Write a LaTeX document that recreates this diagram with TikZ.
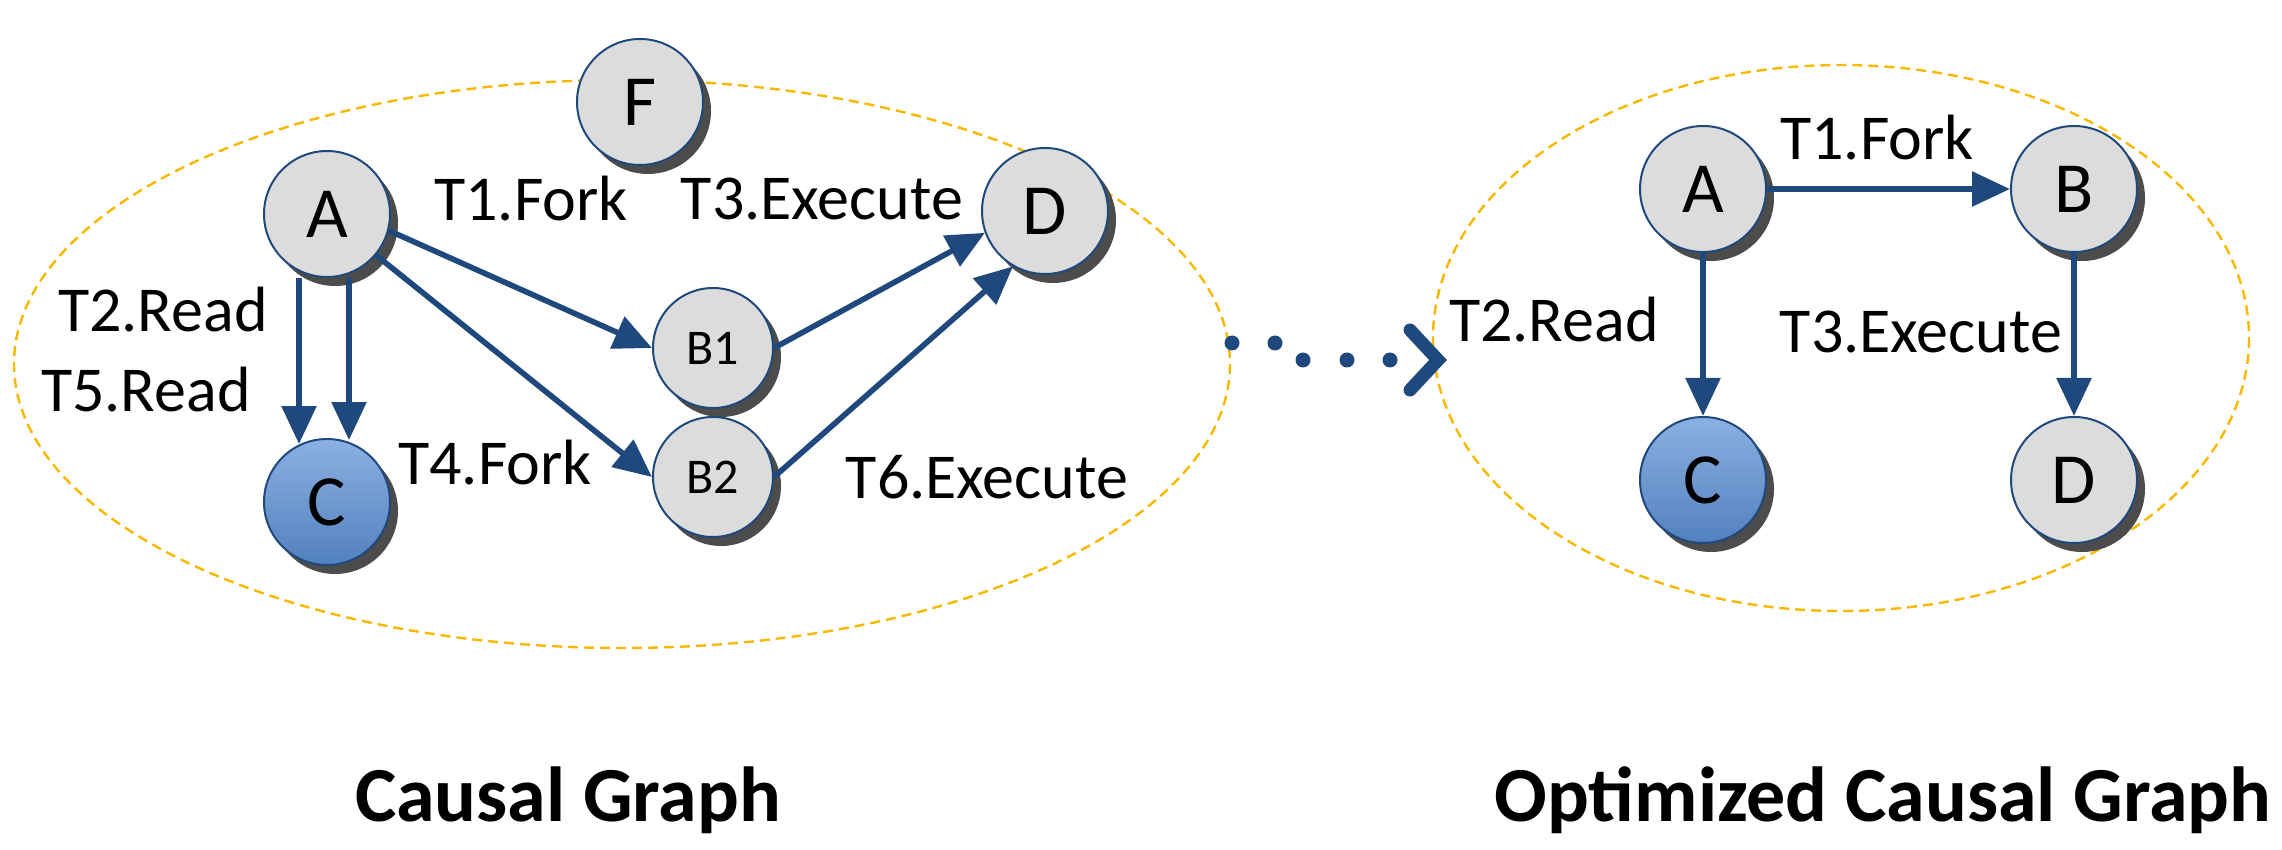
\documentclass[tikz,border=0pt]{standalone}
\usepackage{fontspec}
\setmainfont{Carlito}
\usetikzlibrary{shapes.geometric,arrows.meta,shadows}
\definecolor{edge}{HTML}{1F497D}
\definecolor{gfill}{HTML}{DCDCDC}
\definecolor{bfill}{HTML}{5B8FD4}
\definecolor{oline}{HTML}{F8B800}
\tikzset{
 nd/.style={circle,draw=edge,line width=1pt,fill=gfill,minimum size=63pt,inner sep=0pt,font=\fontsize{36}{36}\selectfont,
   drop shadow={shadow xshift=4pt,shadow yshift=-4.5pt,fill=black!70,opacity=1}},
 sm/.style={nd,minimum size=60pt,font=\fontsize{25}{25}\selectfont},
 blue/.style={top color=bfill!70!white,bottom color=bfill!90!black},
 arr/.style={draw=edge,line width=2.8pt,-{Triangle[length=19pt,width=17pt]}},
 lbl/.style={font=\fontsize{32}{32}\selectfont,inner sep=0pt},
 ttl/.style={font=\bfseries\fontsize{39}{39}\selectfont,inner sep=0pt},
 oval/.style={draw=oline,line width=1.2pt,dash pattern=on 5pt off 3pt}
}
\begin{document}
\begin{tikzpicture}[x=0.5pt,y=-0.5pt]
\useasboundingbox (0,0) rectangle (2282,850);
\draw[oval] (622,364) ellipse [x radius=608,y radius=284];
\draw[oval] (1841,338) ellipse [x radius=408,y radius=273];
% left graph
\node[nd] (F) at (640,102) {F};
\node[nd] (A) at (327,214) {A};
\node[nd,blue] (C) at (327,502) {C};
\node[sm] (B1) at (713,348) {B1};
\node[sm] (B2) at (713,477) {B2};
\node[nd] (D) at (1045,211) {D};
\draw[arr] ([xshift=-14pt]A.south) -- ([xshift=-14pt,yshift=-3pt]C.north);
\draw[arr] ([xshift=11pt]A.south) -- ([xshift=11pt,yshift=-1pt]C.north);
\draw[arr] (A.-15) -- (B1.west);
\draw[arr] (A.-40) -- (B2.west);
\draw[arr] (B1.east) -- (D.-160);
\draw[arr] (B2.east) -- (D.-120);
\node[lbl] (l1) at (531,199) {T1.Fork};
\node[lbl] (l3) at (822,199) {T3.Execute};
\node[lbl] (l2) at (163,310) {T2.Read};
\node[lbl] (l5) at (146,390) {T5.Read};
\node[lbl] (l4) at (495,463) {T4.Fork};
\node[lbl] (l6) at (987,477) {T6.Execute};
% right graph
\node[nd] (RA) at (1703,189) {A};
\node[nd] (RB) at (2074,189) {B};
\node[nd,blue] (RC) at (1703,480) {C};
\node[nd] (RD) at (2074,480) {D};
\draw[arr] (RA.east) -- (RB.west);
\draw[arr] (RA.south) -- (RC.north);
\draw[arr] (RB.south) -- (RD.north);
\node[lbl] (r1) at (1877,138) {T1.Fork};
\node[lbl] (r2) at (1554,320) {T2.Read};
\node[lbl] (r3) at (1921,332) {T3.Execute};
% dotted connector
\foreach \x/\y in {1232/343,1275/343,1303/360,1347/360,1390/360}
  \fill[edge] (\x,\y) circle (7.5);
\coordinate (c1) at (1410,330);
\coordinate (c2) at (1438,360);
\coordinate (c3) at (1410,390);
\draw[edge,line width=6.5pt,line cap=round,line join=miter] (c1) -- (c2) -- (c3);
\node[ttl] (t1) at (568,800) {Causal Graph};
\node[ttl] (t2) at (1883,800) {Optimized Causal Graph};
\end{tikzpicture}
\end{document}
